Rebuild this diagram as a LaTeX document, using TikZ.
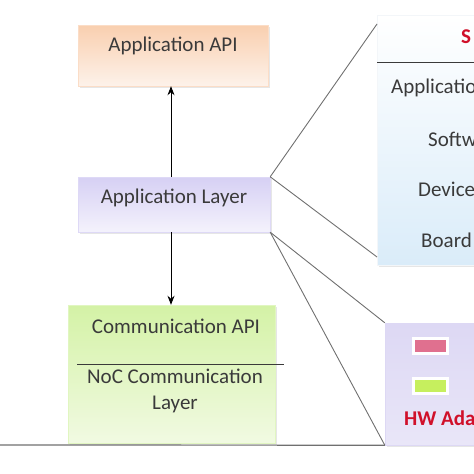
\documentclass[tikz,border=0pt]{standalone}
\usepackage{fontspec}
\setmainfont{Carlito}
\usetikzlibrary{arrows.meta}
\usetikzlibrary{shadows}

\definecolor{textgray}{HTML}{3A3A3A}
\definecolor{linegray}{HTML}{707070}
\definecolor{apired}{HTML}{D0102A}
\definecolor{pinkc}{HTML}{E0708F}
\definecolor{limec}{HTML}{C6EF5E}
\definecolor{apitop}{HTML}{F9CFAF}
\definecolor{apibot}{HTML}{FDF2EA}
\definecolor{layertop}{HTML}{D6D0F4}
\definecolor{layerbot}{HTML}{F4F2FC}
\definecolor{commtop}{HTML}{D4F2A6}
\definecolor{commbot}{HTML}{F1FAE2}
\definecolor{swbot}{HTML}{DAECF9}
\definecolor{hwtop}{HTML}{DDD8F4}
\definecolor{hwbot}{HTML}{E9E6F8}

\tikzstyle{box} = [rectangle, inner sep=0pt, drop shadow={opacity=0.2, shadow xshift=1.5pt, shadow yshift=-1.5pt}]
\tikzstyle{apibox} = [box, draw=apitop!70, top color=apitop, bottom color=apibot]
\tikzstyle{layerbox} = [box, draw=layertop!80, top color=layertop, bottom color=layerbot]
\tikzstyle{commbox} = [box, draw=commtop!70, top color=commtop, bottom color=commbot]
\tikzstyle{swstack} = [box, draw=swbot!90!black!20, top color=white, bottom color=swbot]
\tikzstyle{hwstack} = [box, draw=hwtop, top color=hwtop, bottom color=hwbot]
\tikzstyle{label} = [inner sep=0pt, text=textgray]
\tikzstyle{cutlabel} = [label, anchor=west]
\tikzstyle{redlabel} = [inner sep=0pt, anchor=west, text=apired, font=\fontsize{21}{26}\selectfont\bfseries]
\tikzstyle{chip} = [rectangle, draw=white, line width=3.5pt, minimum width=34pt, minimum height=15pt, drop shadow={opacity=0.25, shadow xshift=1pt, shadow yshift=-1.5pt}]
\tikzstyle{flow} = [line width=1pt, black, ->, >={Stealth[length=9pt, width=7pt]}]
\tikzstyle{zoomline} = [linegray, line width=0.9pt]

\begin{document}
\begin{tikzpicture}[x=1pt, y=-1pt, font=\fontsize{21}{26}\selectfont]

    \useasboundingbox (0,0) rectangle (474,474);

    \node (apiapp) [apibox, minimum width=190pt, minimum height=61pt] at (173,55.5) {};
    \node (applayer) [layerbox, minimum width=192pt, minimum height=55pt] at (174,204.5) {};
    \node (comm) [commbox, minimum width=207pt, minimum height=138pt] at (171.5,374) {};

    \node (apitext) [label] at (173,46) {Application API};
    \node (layertext) [label] at (174,198) {Application Layer};
    \node (commapi) [label] at (176,326) {Communication API};
    \coordinate (sepl) at (77,364);
    \coordinate (sepr) at (284,364);
    \draw [textgray, line width=0.9pt] (sepl) -- (sepr);
    \node (noclayer) [label, align=center] at (175,391) {NoC Communication\\Layer};

    \coordinate (uptail) at (171,177);
    \coordinate (downtail) at (171,232);
    \draw [flow] (uptail) -- (uptail |- apiapp.south);
    \draw [flow] (downtail) -- (downtail |- comm.north);

    % stacks on the right, cut by the page border
    \node (swbox) [swstack, minimum width=240pt, minimum height=250pt] at (497,140) {};
    \coordinate (swsepl) at (377,62);
    \coordinate (swsepr) at (620,62);
    \draw [textgray, line width=0.9pt] (swsepl) -- (swsepr);
    \node (swtitle) [redlabel] at (461,37) {S};
    \node (swapp) [cutlabel] at (391,88) {Applicatio};
    \node (swsoft) [cutlabel] at (428,139) {Softw};
    \node (swdev) [cutlabel] at (418,189) {Device};
    \node (swboard) [cutlabel] at (421,240) {Board};

    \node (hwbox) [hwstack, minimum width=215pt, minimum height=122pt] at (492.5,384) {};
    \node (chippink) [chip, fill=pinkc] at (430.5,346) {};
    \node (chiplime) [chip, fill=limec] at (430.5,386) {};
    \node (hwtitle) [redlabel] at (404,418) {HW Ada};

    \coordinate (swtop) at (377,24);
    \coordinate (swbot) at (377,257);
    \draw [zoomline] (applayer.north east) -- (swtop);
    \draw [zoomline] (applayer.north east) -- (swbot);
    \draw [zoomline] (applayer.south east) -- (hwbox.north west);
    \draw [zoomline] (applayer.south east) -- (hwbox.south west);

    \coordinate (floor) at (0,445);
    \draw [linegray, line width=1.2pt] (floor) -- (hwbox.south west);

\end{tikzpicture}
\end{document}
